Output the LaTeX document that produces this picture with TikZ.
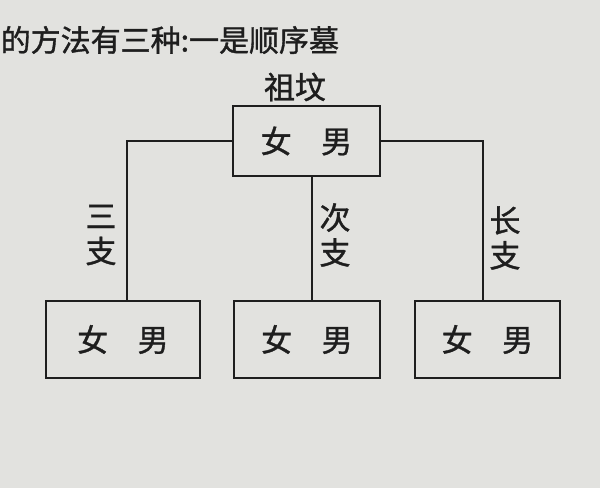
\documentclass[tikz,border=0pt]{standalone}
\usepackage{fontspec}
\newfontfamily\cjk[FakeBold=1.2]{Noto Sans CJK SC}
\definecolor{paper}{RGB}{226,226,223}
\definecolor{ink}{RGB}{30,30,30}
\tikzset{
  box/.style={draw=ink, line width=1.5pt, rectangle, inner sep=0pt, minimum height=72pt, font=\cjk\fontsize{31}{31}\selectfont, text=ink},
  conn/.style={draw=ink, line width=1.5pt},
  lbl/.style={font=\cjk\fontsize{31}{35}\selectfont, text=ink, align=center, inner sep=0pt},
}
\begin{document}
\begin{tikzpicture}[x=1pt,y=-1pt]
\useasboundingbox (0,0) rectangle (600,488);
\fill[paper] (0,0) rectangle (600,488);
\node[lbl, anchor=west, font=\cjk\fontsize{30}{30}\selectfont] (intro) at (0.5,40) {的方法有三种:一是顺序墓};
\node[lbl] (zufen) at (295,87) {祖坟};
\node[box, minimum width=147pt, minimum height=70pt] (top) at (306.5,141) {女\hspace{0.95em}男};
\node[box, minimum width=154pt, minimum height=77pt] (b1) at (123,339.5) {女\hspace{0.95em}男};
\node[box, minimum width=146pt, minimum height=77pt] (b2) at (307,339.5) {女\hspace{0.95em}男};
\node[box, minimum width=145pt, minimum height=77pt] (b3) at (487.5,339.5) {女\hspace{0.95em}男};
\draw[conn] (top.west) -| ([xshift=4pt]b1.north);
\draw[conn] ([xshift=5.5pt]top.south) -- ([xshift=5pt]b2.north);
\draw[conn] (top.east) -| ([xshift=-4.5pt]b3.north);
\node[lbl] (l1) at (101,235) {三\\支};
\node[lbl] (l2) at (335,235) {次\\支};
\node[lbl] (l3) at (505,238) {长\\支};
\end{tikzpicture}
\end{document}
